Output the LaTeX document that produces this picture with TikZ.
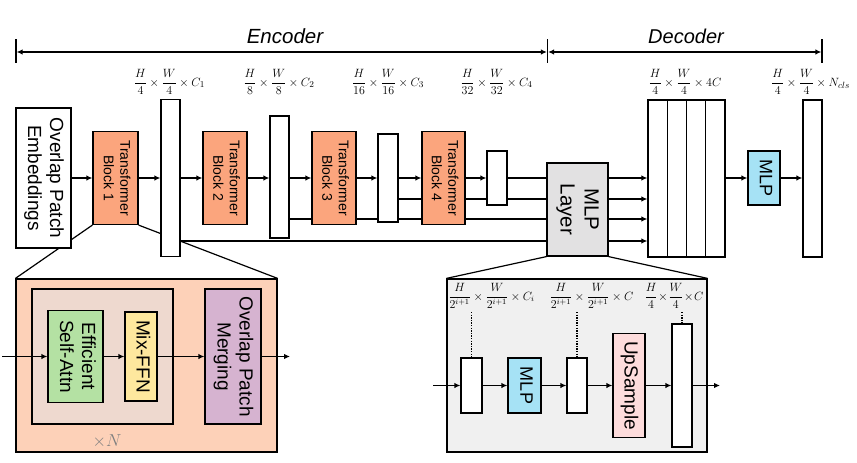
\documentclass[tikz,border=0pt]{standalone}
\usepackage{fontspec}
\setmainfont{Liberation Sans}
\usepackage{graphicx}
\usetikzlibrary{arrows.meta,backgrounds}
\definecolor{tbc}{HTML}{FBA57D}
\definecolor{peach}{HTML}{FDD1B8}
\definecolor{innerc}{HTML}{EED9CF}
\definecolor{esac}{HTML}{B4E1A3}
\definecolor{ffnc}{HTML}{FEE89E}
\definecolor{opmc}{HTML}{D6B3D0}
\definecolor{mlplc}{HTML}{E2E1E2}
\definecolor{bluec}{HTML}{A6E2F5}
\definecolor{decc}{HTML}{F0F0F0}
\definecolor{pinkc}{HTML}{FDDCDC}
\definecolor{grayt}{HTML}{7F7F7F}
\newcommand\vtxt[3]{\rotatebox{-90}{\fontsize{#1}{#2}\selectfont\begin{tabular}{@{}c@{}}#3\end{tabular}}}
\newcommand\dimlab[1]{\fontsize{13}{15}\selectfont$\displaystyle #1$}
\newcommand\smlab[1]{\fontsize{11.5}{13}\selectfont$\displaystyle #1$}
\begin{document}
\begin{tikzpicture}[x=1pt,y=-1pt,
  bx/.style={draw, line width=1.2pt, inner sep=0pt, anchor=center, fill=white},
  arr/.style={line width=1.2pt, -{Latex[length=6pt,width=5.5pt]}},
  ln/.style={line width=1.2pt},
  dotl/.style={line width=1.2pt, dash pattern=on 1.3pt off 1.3pt},
  lab/.style={inner sep=0pt, anchor=center}]
\useasboundingbox (0,0) rectangle (857,463);

% top brackets
\coordinate (bL) at (16,52);
\coordinate (bM) at (547.5,52);
\coordinate (bR) at (822,52);
\draw[ln] (16,39) -- (16,63);
\draw[ln] (547.5,39) -- (547.5,63);
\draw[ln] (822,39) -- (822,63);
\draw[line width=1.2pt, {Latex[length=6pt,width=5.5pt]}-{Latex[length=6pt,width=5.5pt]}, shorten <=0.6pt, shorten >=0.6pt] (bL) -- (bM);
\draw[line width=1.2pt, {Latex[length=6pt,width=5.5pt]}-{Latex[length=6pt,width=5.5pt]}, shorten <=0.6pt, shorten >=0.6pt] (bM) -- (bR);
\node[lab] (enc) at (285,36) {\fontsize{20.5}{24}\selectfont\itshape Encoder};
\node[lab] (dec) at (686,36) {\fontsize{20}{24}\selectfont\itshape Decoder};

% dimension labels
\node[lab] (l1) at (169.5,82) {\dimlab{\frac{H}{4}\times\frac{W}{4}\times C_1}};
\node[lab] (l2) at (279,82) {\dimlab{\frac{H}{8}\times\frac{W}{8}\times C_2}};
\node[lab] (l3) at (388,82) {\dimlab{\frac{H}{16}\times\frac{W}{16}\times C_3}};
\node[lab] (l4) at (496.5,82) {\dimlab{\frac{H}{32}\times\frac{W}{32}\times C_4}};
\node[lab] (l5) at (685,82) {\dimlab{\frac{H}{4}\times\frac{W}{4}\times 4C}};
\node[lab] (l6) at (810.5,82) {\dimlab{\frac{H}{4}\times\frac{W}{4}\times N_{cls}}};

% encoder
\node[bx, minimum width=55pt, minimum height=140pt] (ope) at (43.5,178) {\vtxt{19}{22}{Overlap Patch\\Embeddings}};
\node[bx, fill=tbc, minimum width=45pt, minimum height=93pt] (tb1) at (115.5,178) {\vtxt{14}{16.5}{Transformer\\Block 1}};
\node[bx, minimum width=19pt, minimum height=157pt] (f1) at (170.5,178) {};
\node[bx, fill=tbc, minimum width=44pt, minimum height=93pt] (tb2) at (225,178) {\vtxt{14}{16.5}{Transformer\\Block 2}};
\node[bx, minimum width=19pt, minimum height=122pt] (f2) at (279.5,177) {};
\node[bx, fill=tbc, minimum width=44pt, minimum height=93pt] (tb3) at (334,178) {\vtxt{14}{16.5}{Transformer\\Block 3}};
\node[bx, minimum width=20pt, minimum height=88pt] (f3) at (388,178) {};
\node[bx, fill=tbc, minimum width=43pt, minimum height=93pt] (tb4) at (443.5,178) {\vtxt{14}{16.5}{Transformer\\Block 4}};
\node[bx, minimum width=20pt, minimum height=54pt] (f4) at (497,178) {};
\node[bx, fill=mlplc, minimum width=61pt, minimum height=93pt] (mlpl) at (577.5,209.5) {\vtxt{20.5}{24}{MLP\\Layer}};

% decoder top
\node[bx, minimum width=19.25pt, minimum height=157pt] (s1) at (657.6,178.5) {};
\node[bx, minimum width=19.25pt, minimum height=157pt] (s2) at (676.9,178.5) {};
\node[bx, minimum width=19.25pt, minimum height=157pt] (s3) at (696.1,178.5) {};
\node[bx, minimum width=19.25pt, minimum height=157pt] (s4) at (715.4,178.5) {};
\node[bx, fill=bluec, minimum width=32pt, minimum height=54pt] (mlp) at (764,178) {\vtxt{18}{21}{MLP}};
\node[bx, minimum width=19pt, minimum height=157pt] (fout) at (812.5,178.5) {};

% encoder detail
\node[bx, fill=peach, minimum width=261pt, minimum height=173pt] (dete) at (146.5,365.5) {};
\node[bx, fill=innerc, minimum width=141pt, minimum height=135pt] (inner) at (102.5,356.5) {};
\node[bx, fill=esac, minimum width=55pt, minimum height=92pt] (esa) at (75.5,356.5) {\vtxt{19}{22}{Efficient\\Self-Attn}};
\node[bx, fill=ffnc, minimum width=32pt, minimum height=89pt] (ffn) at (141,356.5) {\vtxt{19}{22}{Mix-FFN}};
\node[bx, fill=opmc, minimum width=56pt, minimum height=135pt] (opm) at (233,356.5) {\vtxt{19}{22}{Overlap Patch\\Merging}};
\node[lab, text=grayt] (xn) at (107,441) {\fontsize{16}{18}\selectfont$\times N$};
\coordinate (inA) at (2,356.5);
\coordinate (outA) at (290,356.5);

% decoder detail
\node[bx, fill=decc, minimum width=260pt, minimum height=173pt] (detd) at (577,365.5) {};
\node[bx, minimum width=21pt, minimum height=55pt] (fa) at (471.5,385.5) {};
\node[bx, fill=bluec, minimum width=33pt, minimum height=55pt] (mlp2) at (524.5,385.5) {\vtxt{18}{21}{MLP}};
\node[bx, minimum width=20pt, minimum height=55pt] (fb) at (577,385.5) {};
\node[bx, fill=pinkc, minimum width=32pt, minimum height=104pt] (up) at (629,385.5) {\vtxt{19}{22}{UpSample}};
\node[bx, minimum width=20pt, minimum height=123pt] (fc) at (682,385.5) {};
\node[lab] (d1) at (491.5,296) {\smlab{\frac{H}{2^{i+1}}\times\frac{W}{2^{i+1}}\times C_i}};
\node[lab] (d2) at (591.5,296) {\smlab{\frac{H}{2^{i+1}}\times\frac{W}{2^{i+1}}\times C}};
\node[lab] (d3) at (674,296) {\smlab{\frac{H}{4}\!\times\!\frac{W}{4}\!\times\! C}};
\coordinate (inB) at (433,385.5);
\coordinate (outB) at (720,385.5);

% background lines
\begin{scope}[on background layer]
\draw[ln] (f3.east |- 0,199) -- (mlpl.west |- 0,199);
\draw[ln] (f2.east |- 0,219) -- (mlpl.west |- 0,219);
\draw[ln] (f1.east |- 0,241) -- (mlpl.west |- 0,241);
\draw[ln] (tb1.south west) -- (dete.north west);
\draw[ln] (tb1.south east) -- (dete.north east);
\draw[ln] (mlpl.south west) -- (detd.north west);
\draw[ln] (mlpl.south east) -- (detd.north east);
\end{scope}

% main chain
\draw[arr] (ope.east) -- (tb1.west);
\draw[arr] (tb1.east) -- (f1.west);
\draw[arr] (f1.east) -- (tb2.west);
\draw[arr] (tb2.east) -- (f2.west |- tb2.east);
\draw[arr] (f2.east |- tb3.west) -- (tb3.west);
\draw[arr] (tb3.east) -- (f3.west);
\draw[arr] (f3.east) -- (tb4.west);
\draw[arr] (tb4.east) -- (f4.west);
\draw[ln] (f4.east) -- (mlpl.west |- f4.east);
\foreach \yy in {178,199,219,241} {
  \draw[arr] (mlpl.east |- 0,\yy) -- (s1.west |- 0,\yy);
}
\draw[arr] (s4.east |- mlp.west) -- (mlp.west);
\draw[arr] (mlp.east) -- (fout.west |- mlp.east);

% encoder detail arrows
\draw[arr] (inA) -- (esa.west);
\draw[arr] (esa.east) -- (ffn.west);
\draw[arr] (ffn.east) -- (opm.west);
\draw[arr] (opm.east) -- (outA);

% decoder detail arrows
\draw[arr] (inB) -- (fa.west);
\draw[arr] (fa.east) -- (mlp2.west);
\draw[arr] (mlp2.east) -- (fb.west);
\draw[arr] (fb.east) -- (up.west);
\draw[arr] (up.east) -- (fc.west);
\draw[arr] (fc.east) -- (outB);
\draw[dotl] (fa.north |- 0,312) -- (fa.north);
\draw[dotl] (fb.north |- 0,312) -- (fb.north);
\draw[dotl] (fc.north |- 0,312) -- (fc.north);
\end{tikzpicture}
\end{document}
